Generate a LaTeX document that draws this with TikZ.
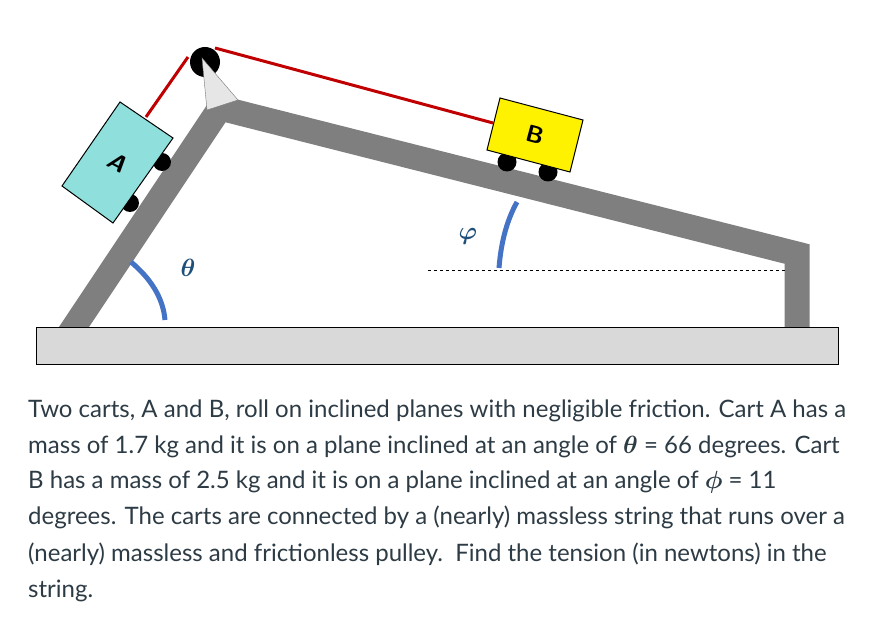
\documentclass[tikz,border=0pt]{standalone}
\usepackage{fontspec}
\setmainfont{Lato}
\usepackage{bm}
\begin{document}
\begin{tikzpicture}[x=1pt,y=-1pt,
  beam/.style={line width=25pt,draw={rgb,255:red,127;green,127;blue,127},line join=miter},
  cartbox/.style={draw=black,line width=1pt},
  wheel/.style={fill=black},
  rope/.style={draw={rgb,255:red,192;green,0;blue,0},line width=3pt},
  anglearc/.style={draw={rgb,255:red,68;green,114;blue,196},line width=5pt},
  anglelbl/.style={text={rgb,255:red,31;green,78;blue,121},font=\fontsize{40}{40}\selectfont},
  body/.style={anchor=base west,inner sep=0,font=\fontsize{24}{36}\selectfont,text={rgb,255:red,45;green,59;blue,69}}]
\useasboundingbox (0,0) rectangle (884,617);
% beam
\draw[beam] (62,345) -- (220,108) -- (797,254) -- (797,340);
% ground
\draw[fill={rgb,255:red,217;green,217;blue,217},line width=1pt] (36,328) rectangle (838,365);
% dashed
\coordinate (d1) at (428,271); \coordinate (d2) at (785,271);
\draw[dashed,line width=1pt] (d1) -- (d2);
% pulley
\fill (205,62) circle (15);
\draw[fill={rgb,255:red,230;green,230;blue,230},draw={rgb,255:red,120;green,120;blue,120},line width=0.4pt] (202,58) -- (238,100) -- (207,110) -- cycle;
% cart A
\fill[wheel] (162,162) circle (9);
\fill[wheel] (130,203) circle (9);
\draw[cartbox,fill={rgb,255:red,143;green,224;blue,220}] (120,102) -- (173,138) -- (113,223) -- (62,186) -- cycle;
\node[rotate=-28,font=\sffamily\bfseries\itshape\fontsize{24}{24}\selectfont] (ca) at (117.5,162) {A};
% cart B
\fill[wheel] (507,162) circle (9.5);
\fill[wheel] (548,172) circle (9.5);
\draw[cartbox,fill=yellow] (500,98) -- (583,120) -- (570,172) -- (487,150) -- cycle;
\node[rotate=-15,font=\sffamily\bfseries\fontsize{24}{24}\selectfont] (cb) at (535,135) {B};
% ropes
\coordinate (pa) at (188,57); \coordinate (pb) at (215,48);
\coordinate (ra) at (146,117); \coordinate (rb) at (493,123);
\draw[rope] (pa) -- (ra);
\draw[rope] (pb) -- (rb);
% angles
\draw[anglearc] (131,262) .. controls (150,278) and (163,297) .. (165,320);
\node[anglelbl] (th) at (188,268) {$\bm{\theta}$};
\draw[anglearc] (517,202) .. controls (507,220) and (501,242) .. (499,268);
\node[anglelbl] (ph) at (468,236) {$\bm{\varphi}$};
% text
\node[body] (l1) at (28,418) {Two carts, A and B, roll on inclined planes with negligible friction. Cart A has a};
\node[body] (l2) at (28,454) {mass of 1.7 kg and it is on a plane inclined at an angle of $\bm{\theta}$ = 66 degrees. Cart};
\node[body] (l3) at (28,489) {B has a mass of 2.5 kg and it is on a plane inclined at an angle of $\bm{\phi}$ = 11};
\node[body] (l4) at (28,525) {degrees. The carts are connected by a (nearly) massless string that runs over a};
\node[body] (l5) at (28,561) {(nearly) massless and frictionless pulley.\ \ Find the tension (in newtons) in the};
\node[body] (l6) at (28,597) {string.};
\end{tikzpicture}
\end{document}
